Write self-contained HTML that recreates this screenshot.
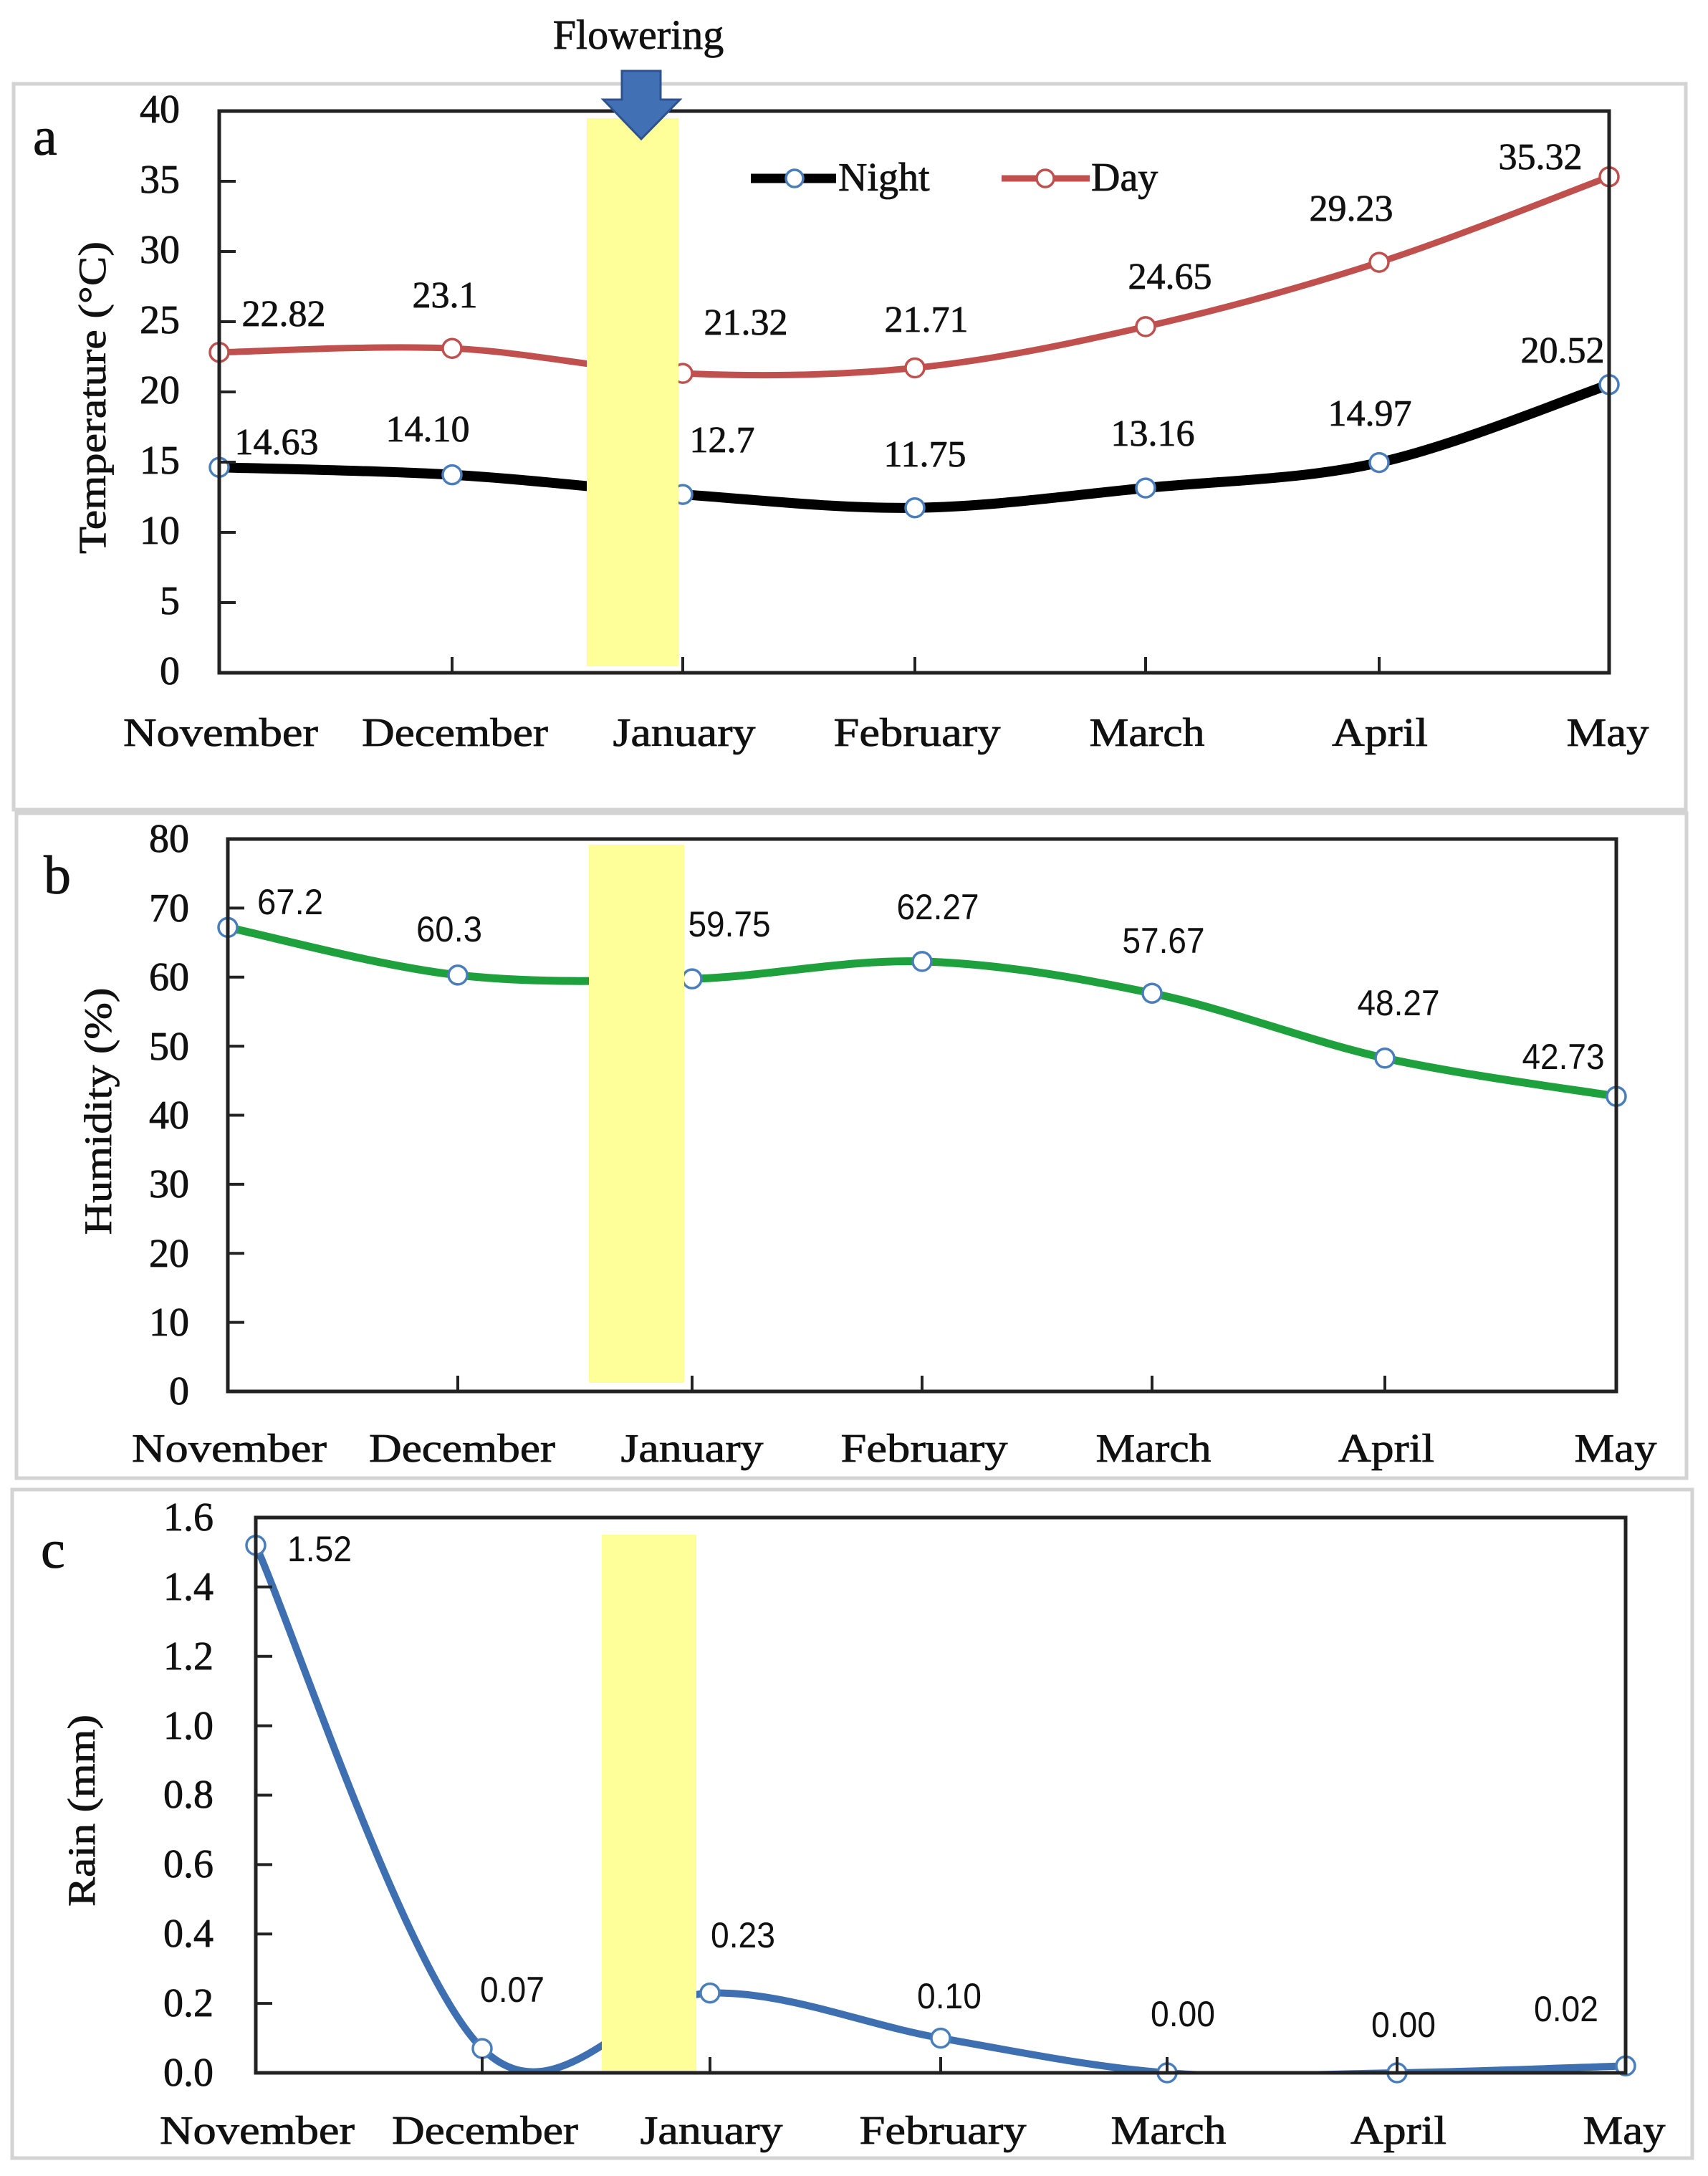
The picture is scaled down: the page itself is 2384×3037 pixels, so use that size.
<!DOCTYPE html>
<html><head><meta charset="utf-8"><style>
html,body{margin:0;padding:0;background:#fff;}
svg{display:block;}
.s{font-family:"Liberation Serif",serif;fill:#111;stroke:#111;stroke-width:0.8px;}
.n{font-family:"Liberation Sans Narrow","Liberation Sans",sans-serif;fill:#111;}
</style></head><body>
<svg width="2384" height="3037" viewBox="0 0 2384 3037" xmlns="http://www.w3.org/2000/svg">
<defs>
<clipPath id="ca"><rect x="306" y="155" width="1940" height="784"/></clipPath>
<clipPath id="cb"><rect x="318" y="1171" width="1938" height="771"/></clipPath>
<clipPath id="cc"><rect x="357" y="2118" width="1912" height="775"/></clipPath>
</defs>
<rect width="2384" height="3037" fill="#fff"/>
<rect x="19" y="117" width="2334" height="1013" fill="none" stroke="#d3d3d3" stroke-width="5"/>
<rect x="23" y="1135" width="2331" height="928" fill="none" stroke="#d3d3d3" stroke-width="5"/>
<rect x="17" y="2079" width="2345" height="933" fill="none" stroke="#d3d3d3" stroke-width="5"/>

<text class="s" x="891" y="68" font-size="58" text-anchor="middle">Flowering</text>

<!-- ===== Panel a ===== -->
<g clip-path="url(#ca)">
<path id="pad" fill="none" stroke="#c0504d" stroke-width="9"/>
<path id="pan" fill="none" stroke="#000" stroke-width="14"/>
</g>
<g id="ma"></g>
<rect x="819" y="165" width="128" height="765" fill="#ffff99"/>
<rect x="306" y="155" width="1940" height="784" fill="none" stroke="#222" stroke-width="5"/>
<g id="ta" stroke="#222" stroke-width="4"></g>
<polygon points="868,99 922,99 922,139 949,139 895,194 842,139 868,139" fill="#4170b5" stroke="#2c5290" stroke-width="3"/>
<text class="s" x="46" y="216" font-size="76">a</text>
<g class="s" font-size="56" text-anchor="end">
<text x="251" y="171">40</text><text x="251" y="269">35</text><text x="251" y="367">30</text><text x="251" y="465">25</text><text x="251" y="563">20</text><text x="251" y="661">15</text><text x="251" y="759">10</text><text x="251" y="857">5</text><text x="251" y="955">0</text>
</g>
<text class="s" font-size="54" text-anchor="middle" transform="translate(147,555) rotate(-90)" textLength="436" lengthAdjust="spacingAndGlyphs">Temperature (°C)</text>
<g class="s" font-size="56" text-anchor="middle">
<text x="308" y="1041" textLength="272" lengthAdjust="spacingAndGlyphs">November</text>
<text x="635" y="1041" textLength="260" lengthAdjust="spacingAndGlyphs">December</text>
<text x="955" y="1041" textLength="199" lengthAdjust="spacingAndGlyphs">January</text>
<text x="1280" y="1041" textLength="233" lengthAdjust="spacingAndGlyphs">February</text>
<text x="1601" y="1041" textLength="161" lengthAdjust="spacingAndGlyphs">March</text>
<text x="1926" y="1041" textLength="134" lengthAdjust="spacingAndGlyphs">April</text>
<text x="2244" y="1041" textLength="115" lengthAdjust="spacingAndGlyphs">May</text>
</g>
<g class="s" font-size="52" text-anchor="middle">
<text x="396" y="455">22.82</text><text x="621" y="429">23.1</text><text x="1041" y="467">21.32</text><text x="1293" y="463">21.71</text><text x="1633" y="403">24.65</text><text x="1886" y="308">29.23</text><text x="2150" y="236">35.32</text>
<text x="386" y="634">14.63</text><text x="597" y="616">14.10</text><text x="1008" y="631">12.7</text><text x="1291" y="651">11.75</text><text x="1609" y="622">13.16</text><text x="1912" y="594">14.97</text><text x="2181" y="506">20.52</text>
</g>
<line x1="1048" y1="249" x2="1167" y2="249" stroke="#000" stroke-width="13"/>
<circle cx="1109" cy="249" r="12" fill="#fff" stroke="#4a7ebb" stroke-width="3.5"/>
<text class="s" x="1170" y="266" font-size="56">Night</text>
<line x1="1398" y1="249" x2="1521" y2="249" stroke="#c0504d" stroke-width="9"/>
<circle cx="1459" cy="249" r="12" fill="#fff" stroke="#c0504d" stroke-width="3.5"/>
<text class="s" x="1523" y="266" font-size="56">Day</text>

<!-- ===== Panel b ===== -->
<g clip-path="url(#cb)"><path id="pb" fill="none" stroke="#1ea03c" stroke-width="11"/></g>
<g id="mb"></g>
<rect x="822" y="1179" width="133" height="751" fill="#ffff99"/>
<rect x="318" y="1171" width="1938" height="771" fill="none" stroke="#222" stroke-width="5"/>
<g id="tb" stroke="#222" stroke-width="4"></g>
<text class="s" x="61" y="1247" font-size="76">b</text>
<g class="s" font-size="56" text-anchor="end">
<text x="264" y="1189">80</text><text x="264" y="1286">70</text><text x="264" y="1382">60</text><text x="264" y="1479">50</text><text x="264" y="1575">40</text><text x="264" y="1671">30</text><text x="264" y="1768">20</text><text x="264" y="1864">10</text><text x="264" y="1960">0</text>
</g>
<text class="s" font-size="54" text-anchor="middle" transform="translate(155,1551) rotate(-90)" textLength="345" lengthAdjust="spacingAndGlyphs">Humidity (%)</text>
<g class="s" font-size="56" text-anchor="middle">
<text x="320" y="2040" textLength="272" lengthAdjust="spacingAndGlyphs">November</text>
<text x="645" y="2040" textLength="260" lengthAdjust="spacingAndGlyphs">December</text>
<text x="966" y="2040" textLength="199" lengthAdjust="spacingAndGlyphs">January</text>
<text x="1290" y="2040" textLength="233" lengthAdjust="spacingAndGlyphs">February</text>
<text x="1610" y="2040" textLength="161" lengthAdjust="spacingAndGlyphs">March</text>
<text x="1935" y="2040" textLength="134" lengthAdjust="spacingAndGlyphs">April</text>
<text x="2255" y="2040" textLength="115" lengthAdjust="spacingAndGlyphs">May</text>
</g>
<g class="n" font-size="50" text-anchor="middle">
<text x="405" y="1276" textLength="92" lengthAdjust="spacingAndGlyphs">67.2</text><text x="627" y="1314" textLength="92" lengthAdjust="spacingAndGlyphs">60.3</text><text x="1018" y="1307" textLength="115" lengthAdjust="spacingAndGlyphs">59.75</text><text x="1309" y="1283" textLength="115" lengthAdjust="spacingAndGlyphs">62.27</text><text x="1624" y="1330" textLength="115" lengthAdjust="spacingAndGlyphs">57.67</text><text x="1952" y="1417" textLength="115" lengthAdjust="spacingAndGlyphs">48.27</text><text x="2182" y="1492" textLength="115" lengthAdjust="spacingAndGlyphs">42.73</text>
</g>

<!-- ===== Panel c ===== -->
<g clip-path="url(#cc)"><path id="pc" fill="none" stroke="#3e6fb0" stroke-width="10"/></g>
<g id="mc"></g>
<rect x="840" y="2142" width="132" height="748" fill="#ffff99"/>
<rect x="357" y="2118" width="1912" height="775" fill="none" stroke="#222" stroke-width="5"/>
<g id="tc" stroke="#222" stroke-width="4"></g>
<text class="s" x="57" y="2188" font-size="76">c</text>
<g class="s" font-size="56" text-anchor="end">
<text x="298" y="2136">1.6</text><text x="298" y="2233">1.4</text><text x="298" y="2330">1.2</text><text x="298" y="2427">1.0</text><text x="298" y="2523">0.8</text><text x="298" y="2620">0.6</text><text x="298" y="2717">0.4</text><text x="298" y="2814">0.2</text><text x="298" y="2911">0.0</text>
</g>
<text class="s" font-size="54" text-anchor="middle" transform="translate(132,2527) rotate(-90)" textLength="268" lengthAdjust="spacingAndGlyphs">Rain (mm)</text>
<g class="s" font-size="56" text-anchor="middle">
<text x="359" y="2992" textLength="272" lengthAdjust="spacingAndGlyphs">November</text>
<text x="677" y="2992" textLength="260" lengthAdjust="spacingAndGlyphs">December</text>
<text x="993" y="2992" textLength="199" lengthAdjust="spacingAndGlyphs">January</text>
<text x="1316" y="2992" textLength="233" lengthAdjust="spacingAndGlyphs">February</text>
<text x="1631" y="2992" textLength="161" lengthAdjust="spacingAndGlyphs">March</text>
<text x="1952" y="2992" textLength="134" lengthAdjust="spacingAndGlyphs">April</text>
<text x="2267" y="2992" textLength="115" lengthAdjust="spacingAndGlyphs">May</text>
</g>
<g class="n" font-size="50" text-anchor="middle">
<text x="446" y="2179" textLength="90" lengthAdjust="spacingAndGlyphs">1.52</text><text x="715" y="2794" textLength="90" lengthAdjust="spacingAndGlyphs">0.07</text><text x="1037" y="2718" textLength="90" lengthAdjust="spacingAndGlyphs">0.23</text><text x="1325" y="2803" textLength="90" lengthAdjust="spacingAndGlyphs">0.10</text><text x="1651" y="2828" textLength="90" lengthAdjust="spacingAndGlyphs">0.00</text><text x="1959" y="2843" textLength="90" lengthAdjust="spacingAndGlyphs">0.00</text><text x="2186" y="2821" textLength="90" lengthAdjust="spacingAndGlyphs">0.02</text>
</g>
</svg>
<script>
function path(p){var d="M"+p[0][0]+","+p[0][1];for(var i=0;i<p.length-1;i++){var p0=p[i-1]||p[i],p1=p[i],p2=p[i+1],p3=p[i+2]||p2;
var c1x=p1[0]+(p2[0]-p0[0])/6,c1y=p1[1]+(p2[1]-p0[1])/6,c2x=p2[0]-(p3[0]-p1[0])/6,c2y=p2[1]-(p3[1]-p1[1])/6;
d+=" C"+c1x+","+c1y+" "+c2x+","+c2y+" "+p2[0]+","+p2[1];}return d;}
var NS="http://www.w3.org/2000/svg";
function el(g,t,a){var e=document.createElementNS(NS,t);for(var k in a)e.setAttribute(k,a[k]);g.appendChild(e);}
function panel(xs,vals,y0,y1,vmax,pid,gid,col){var pts=vals.map(function(v,i){return [xs[i],y0-(y0-y1)*v/vmax];});
document.getElementById(pid).setAttribute("d",path(pts));var g=document.getElementById(gid);
pts.forEach(function(p){el(g,"circle",{cx:p[0],cy:p[1],r:13,fill:"#fff",stroke:col,"stroke-width":3.5});});}
function ticks(gid,xl,xs,y0,y1,n){var g=document.getElementById(gid);
for(var i=1;i<n;i++){var y=y0-(y0-y1)*i/n;el(g,"line",{x1:xl,y1:y,x2:xl+23,y2:y});}
xs.slice(1,-1).forEach(function(x){el(g,"line",{x1:x,y1:y0,x2:x,y2:y0-22});});}
var xa=[306,631,953,1277,1599,1925,2246];
panel(xa,[22.82,23.1,21.32,21.71,24.65,29.23,35.32],939,155,40,"pad","ma","#c0504d");
panel(xa,[14.63,14.10,12.7,11.75,13.16,14.97,20.52],939,155,40,"pan","ma","#4a7ebb");
ticks("ta",306,xa,939,155,8);
var xb=[318,639,966,1287,1608,1933,2256];
panel(xb,[67.2,60.3,59.75,62.27,57.67,48.27,42.73],1942,1171,80,"pb","mb","#4a7ebb");
ticks("tb",318,xb,1942,1171,8);
var xc=[357,673,991,1313,1629,1950,2269];
panel(xc,[1.52,0.07,0.23,0.10,0,0,0.02],2893,2118,1.6,"pc","mc","#4a7ebb");
ticks("tc",357,xc,2893,2118,8);
</script>
</body></html>
